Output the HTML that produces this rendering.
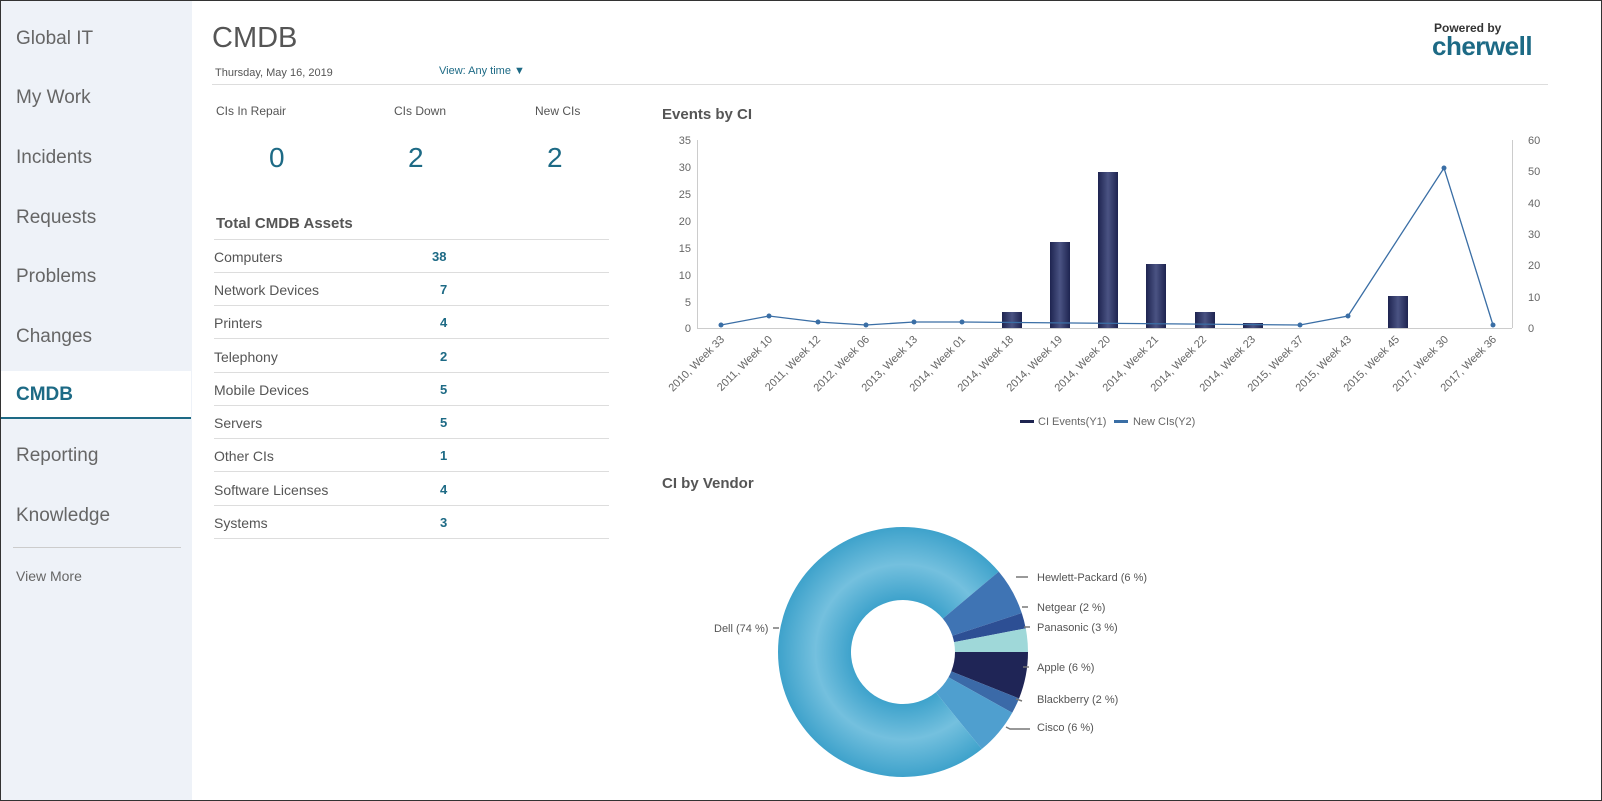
<!DOCTYPE html>
<html><head><meta charset="utf-8"><style>
*{margin:0;padding:0;box-sizing:border-box}
body{width:1602px;height:801px;overflow:hidden;background:#fff;font-family:"Liberation Sans",sans-serif;color:#555;position:relative}
.frame{position:absolute;left:0;top:0;width:1602px;height:801px;border:1px solid #333;pointer-events:none}
.side{position:absolute;left:1px;top:1px;width:191px;height:799px;background:#eef2f8}
.side div{position:absolute;left:15px;font-size:19px;color:#666}
.sel{position:absolute;left:0;top:371px;width:191px;height:48px;background:#fff;border-bottom:2px solid #1d6a85}
.t{position:absolute;white-space:nowrap}
.row{position:absolute;left:214px;width:395px;height:33px;border-bottom:1px solid #ddd;font-size:14px;color:#555}
.row span{position:absolute;top:9px}
.row b{position:absolute;left:226px;top:9px;color:#1d6a85;font-size:13px}
</style></head><body>
<div class="side">
<div style="top:27px">Global IT</div>
<div style="top:86px">My Work</div>
<div style="top:146px">Incidents</div>
<div style="top:206px">Requests</div>
<div style="top:265px">Problems</div>
<div style="top:325px">Changes</div>
<div style="top:444px">Reporting</div>
<div style="top:504px">Knowledge</div>
<div style="top:546px;left:12px;width:168px;border-top:1px solid #ccc;height:0"></div>
<div style="top:567px;font-size:14px">View More</div>
</div>
<div class="sel"><div class="t" style="left:16px;top:13px;font-size:19px;font-weight:bold;color:#1d6a85">CMDB</div></div>
<div class="t" style="left:212px;top:22px;font-size:29px;color:#555">CMDB</div>
<div class="t" style="left:215px;top:67px;font-size:11px">Thursday, May 16, 2019</div>
<div class="t" style="left:439px;top:65px;font-size:11px;color:#1d6a85">View: Any time &#9660;</div>
<div class="t" style="left:1434px;top:21px;font-size:12px;font-weight:bold;color:#333">Powered by</div>
<div class="t" style="left:1432px;top:31px;font-size:26px;font-weight:bold;color:#1d6a85;letter-spacing:-0.5px">cherwell</div>
<div style="position:absolute;left:212px;top:84px;width:1336px;border-top:1px solid #ddd"></div>
<div class="t" style="left:216px;top:104px;font-size:12px">CIs In Repair</div>
<div class="t" style="left:394px;top:104px;font-size:12px">CIs Down</div>
<div class="t" style="left:535px;top:104px;font-size:12px">New CIs</div>
<div class="t" style="left:269px;top:142px;font-size:28px;color:#1d6a85">0</div>
<div class="t" style="left:408px;top:142px;font-size:28px;color:#1d6a85">2</div>
<div class="t" style="left:547px;top:142px;font-size:28px;color:#1d6a85">2</div>
<div class="t" style="left:216px;top:215px;font-size:15px;font-weight:bold">Total CMDB Assets</div>
<div style="position:absolute;left:214px;top:239px;width:395px;border-top:1px solid #ddd"></div>
<div class="row" style="top:240px"><span>Computers</span><b style="left:218px">38</b></div>
<div class="row" style="top:273px"><span>Network Devices</span><b>7</b></div>
<div class="row" style="top:306px"><span>Printers</span><b>4</b></div>
<div class="row" style="top:340px"><span>Telephony</span><b>2</b></div>
<div class="row" style="top:373px"><span>Mobile Devices</span><b>5</b></div>
<div class="row" style="top:406px"><span>Servers</span><b>5</b></div>
<div class="row" style="top:439px"><span>Other CIs</span><b>1</b></div>
<div class="row" style="top:473px"><span>Software Licenses</span><b>4</b></div>
<div class="row" style="top:506px"><span>Systems</span><b>3</b></div>
<div class="t" style="left:662px;top:106px;font-size:15px;font-weight:bold">Events by CI</div>
<div class="t" style="left:662px;top:475px;font-size:15px;font-weight:bold">CI by Vendor</div>
<svg width="1602" height="801" style="position:absolute;left:0;top:0" font-family="Liberation Sans,sans-serif">
<defs>
<linearGradient id="bar" x1="0" x2="1"><stop offset="0" stop-color="#1e2450"/><stop offset=".5" stop-color="#4a5383"/><stop offset="1" stop-color="#1e2450"/></linearGradient>
<radialGradient id="dg" cx="903" cy="652" r="125" gradientUnits="userSpaceOnUse"><stop offset=".42" stop-color="#3fa3cc"/><stop offset=".7" stop-color="#74c0de"/><stop offset="1" stop-color="#3ea2cb"/></radialGradient>
</defs>
<g stroke="#ccc" stroke-width="1">
<line x1="697.5" y1="140" x2="697.5" y2="328"/>
<line x1="1512.5" y1="140" x2="1512.5" y2="328"/>
<line x1="697" y1="328.5" x2="1512" y2="328.5"/>
</g>
<g font-size="11" fill="#666" text-anchor="end">
<text x="691" y="144">35</text><text x="691" y="171">30</text><text x="691" y="198">25</text><text x="691" y="225">20</text><text x="691" y="252">15</text><text x="691" y="279">10</text><text x="691" y="306">5</text><text x="691" y="332">0</text>
</g>
<g font-size="11" fill="#666">
<text x="1528" y="144">60</text><text x="1528" y="175">50</text><text x="1528" y="207">40</text><text x="1528" y="238">30</text><text x="1528" y="269">20</text><text x="1528" y="301">10</text><text x="1528" y="332">0</text>
</g>
<g fill="url(#bar)">
<rect x="1002" y="312" width="20" height="16"/>
<rect x="1050" y="242" width="20" height="86"/>
<rect x="1098" y="172" width="20" height="156"/>
<rect x="1146" y="264" width="20" height="64"/>
<rect x="1195" y="312" width="20" height="16"/>
<rect x="1243" y="323" width="20" height="5"/>
<rect x="1388" y="296" width="20" height="32"/>
</g>
<polyline fill="none" stroke="#3a6ea5" stroke-width="1.3" points="721,325 769,316 818,322 866,325 914,322 962,322 1300,325 1348,316 1444,168 1493,325"/>
<g fill="#3a6ea5">
<circle cx="721" cy="325" r="2.5"/><circle cx="769" cy="316" r="2.5"/><circle cx="818" cy="322" r="2.5"/><circle cx="866" cy="325" r="2.5"/><circle cx="914" cy="322" r="2.5"/><circle cx="962" cy="322" r="2.5"/><circle cx="1300" cy="325" r="2.5"/><circle cx="1348" cy="316" r="2.5"/><circle cx="1444" cy="168" r="2.5"/><circle cx="1493" cy="325" r="2.5"/>
</g>
<g font-size="11" fill="#666" text-anchor="end">
<text transform="translate(725,340) rotate(-45)">2010, Week 33</text>
<text transform="translate(773,340) rotate(-45)">2011, Week 10</text>
<text transform="translate(821,340) rotate(-45)">2011, Week 12</text>
<text transform="translate(870,340) rotate(-45)">2012, Week 06</text>
<text transform="translate(918,340) rotate(-45)">2013, Week 13</text>
<text transform="translate(966,340) rotate(-45)">2014, Week 01</text>
<text transform="translate(1014,340) rotate(-45)">2014, Week 18</text>
<text transform="translate(1063,340) rotate(-45)">2014, Week 19</text>
<text transform="translate(1111,340) rotate(-45)">2014, Week 20</text>
<text transform="translate(1159,340) rotate(-45)">2014, Week 21</text>
<text transform="translate(1207,340) rotate(-45)">2014, Week 22</text>
<text transform="translate(1256,340) rotate(-45)">2014, Week 23</text>
<text transform="translate(1304,340) rotate(-45)">2015, Week 37</text>
<text transform="translate(1352,340) rotate(-45)">2015, Week 43</text>
<text transform="translate(1400,340) rotate(-45)">2015, Week 45</text>
<text transform="translate(1449,340) rotate(-45)">2017, Week 30</text>
<text transform="translate(1497,340) rotate(-45)">2017, Week 36</text>
</g>
<rect x="1020" y="420" width="14" height="3" fill="#1e2450"/>
<text x="1038" y="425" font-size="11" fill="#666">CI Events(Y1)</text>
<rect x="1114" y="420" width="14" height="3" fill="#3a6ea5"/>
<text x="1133" y="425" font-size="11" fill="#666">New CIs(Y2)</text>
<!-- donut -->
<g id="donut"></g>
<g stroke="#777" stroke-width="1.5" fill="none">
<path d="M1016 577h12"/><path d="M1022 607h6"/><path d="M1024 627h6"/><path d="M1023 667h6"/><path d="M1016 699l6 2"/><path d="M1006 727l4 2h20"/><path d="M773 628h6"/>
</g>
<g font-size="11" fill="#555">
<text x="1037" y="581">Hewlett-Packard (6 %)</text>
<text x="1037" y="611">Netgear (2 %)</text>
<text x="1037" y="631">Panasonic (3 %)</text>
<text x="1037" y="671">Apple (6 %)</text>
<text x="1037" y="703">Blackberry (2 %)</text>
<text x="1037" y="731">Cisco (6 %)</text>
<text x="714" y="632">Dell (74 %)</text>
</g>
</svg>
<div class="frame"></div>
<script>
(function(){
var cx=903,cy=652,R=125,r=52,g=document.getElementById('donut');
var s=[[6,'#1f2556'],[2,'#3b6aa8'],[6,'#4f9fcf'],[74,'url(#dg)'],[6,'#3f74b4'],[2,'#2d4f94'],[3,'#9fd8d9']];
var tot=99,a=0;
function p(rad,ang){return (cx+rad*Math.cos(ang)).toFixed(2)+' '+(cy+rad*Math.sin(ang)).toFixed(2);}
s.forEach(function(x){var a0=a/tot*2*Math.PI,a1=(a+x[0])/tot*2*Math.PI;a+=x[0];
var l=(a1-a0)>Math.PI?1:0;
var e=document.createElementNS('http://www.w3.org/2000/svg','path');
e.setAttribute('d','M'+p(R,a0)+' A'+R+' '+R+' 0 '+l+' 1 '+p(R,a1)+' L'+p(r,a1)+' A'+r+' '+r+' 0 '+l+' 0 '+p(r,a0)+'Z');
e.setAttribute('fill',x[1]);g.appendChild(e);});
})();
</script>
</body></html>
